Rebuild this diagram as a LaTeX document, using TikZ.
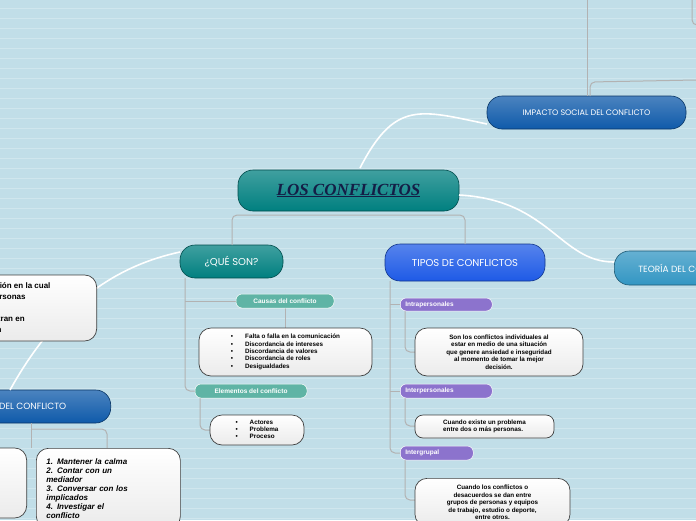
\documentclass[tikz,border=0pt]{standalone}
\usepackage{fontspec}
\setmainfont{Liberation Sans}
\newfontfamily\serifx{Liberation Serif}
\newfontfamily\handf{Poppins}
\definecolor{bgc}{RGB}{193,222,232}
\definecolor{tipc}{RGB}{30,90,230}
\definecolor{impc}{RGB}{15,90,170}
\definecolor{teoc}{RGB}{50,150,195}
\definecolor{subg}{RGB}{95,180,165}
\definecolor{subp}{RGB}{140,115,205}
\definecolor{navy}{RGB}{20,30,70}
\begin{document}
\begin{tikzpicture}[x=1pt,y=-1pt,
  topic/.style={rounded corners=15pt,draw=#1!60!black,line width=0.6pt,top color=#1!75!white,bottom color=#1,text=white,font=\handf\fontsize{8}{9}\selectfont,inner sep=0pt},
  sub/.style={rounded corners=6pt,draw=white,line width=0.5pt,fill=#1,text=white,font=\bfseries\fontsize{6.5}{7}\selectfont,inner sep=0pt},
  txt/.style={rounded corners=12pt,draw=black!75,line width=0.7pt,top color=white,bottom color=black!8,font=\bfseries\fontsize{6.3}{7.4}\selectfont,inner sep=0pt},
  gl/.style={draw=black!30,line width=1pt,rounded corners=5pt},
  wl/.style={draw=white,line width=1.6pt}]
\fill[bgc] (0,0) rectangle (696,520);
\useasboundingbox (0,0) rectangle (696,520);
\clip (0,0) rectangle (696,520);
\foreach \y in {8,18,...,518} {\draw[white,opacity=0.25,line width=0.4pt] (0,\y)--(696,\y);}
% nodes
\node[topic=teal,minimum width=221pt,minimum height=41pt,font=\serifx\bfseries\itshape\fontsize{17}{19}\selectfont,text=navy] (main) at (348.5,190.5) {\underline{LOS CONFLICTOS}};
\node[topic=teal,minimum width=103pt,minimum height=33pt,font=\handf\fontsize{10}{11}\selectfont] (que) at (231.5,261.5) {¿QUÉ SON?};
\node[topic=tipc,minimum width=160pt,minimum height=37pt,font=\handf\fontsize{10}{11}\selectfont] (tipos) at (465,262.5) {TIPOS DE CONFLICTOS};
\node[topic=impc,minimum width=199pt,minimum height=33pt] (imp) at (586.5,112.5) {IMPACTO SOCIAL DEL CONFLICTO};
\node[topic=teoc,minimum width=200pt,minimum height=34pt,anchor=west,font=\handf\fontsize{9}{10}\selectfont] (teo) at (614,268) {\hspace{-52pt}TEORÍA DEL CONFLICTO};
\node[topic=impc,minimum width=200pt,minimum height=33pt,anchor=east,font=\handf\fontsize{9}{10}\selectfont] (proc) at (111,406.5) {PROCESO DEL CONFLICTO\hspace{12pt}};
% gray connectors
\draw[gl] (232,245)--(232,215)--(465,215)--(465,244);
\draw[gl] (185,278)--(185,391)--(195,391);
\draw[gl] (185,301)--(236,301);
\draw[gl] (285,308)--(285,328);
\draw[gl] (200,398)--(200,430)--(210,430);
\draw[gl] (390,281)--(390,453)--(400,453);
\draw[gl] (390,304)--(400,304);
\draw[gl] (390,391)--(400,391);
\draw[gl] (405,311)--(405,352)--(415,352);
\draw[gl] (405,398)--(405,426)--(415,426);
\draw[gl] (405,460)--(405,500)--(415,500);
\draw[gl] (587,96)--(587,0);
\draw[gl] (590,96)--(590,82)--(696,80);
\draw[gl] (692,0)--(692,25)--(696,25);
\draw[gl] (31,423)--(31,448);
\draw[gl] (31,429)--(107,429)--(107,448);
% white curves
\draw[wl] (360,168) .. controls (395,100) and (420,110) .. (487,124);
\draw[wl] (459,195) .. controls (550,200) and (560,262) .. (614,262);
\draw[wl] (180,252) .. controls (120,265) and (60,300) .. (10,390);
% subs
\node[sub=subg,minimum width=98pt,minimum height=14pt] (causas) at (285,301) {Causas del conflicto};
\node[sub=subg,minimum width=112pt,minimum height=14pt] (elem) at (251,391) {Elementos del conflicto};
\node[sub=subp,minimum width=92pt,minimum height=13pt,anchor=west,text width=82pt] (intra) at (400,304.5) {Intrapersonales};
\node[sub=subp,minimum width=92pt,minimum height=14pt,anchor=west,text width=82pt] (inter) at (400,391) {Interpersonales};
\node[sub=subp,minimum width=73pt,minimum height=14pt,anchor=west,text width=63pt] (interg) at (400,453) {Intergrupal};
% text boxes
\node[txt,minimum width=173pt,minimum height=48pt] (cbox) at (285.5,352) {\begin{tabular}{@{}l@{\hspace{12pt}}l@{}}•&Falta o falla en la comunicación\\•&Discordancia de intereses\\•&Discordancia de valores\\•&Discordancia de roles\\•&Desigualdades\end{tabular}};
\node[txt,minimum width=94pt,minimum height=30pt] (ebox) at (257,430) {\begin{tabular}{@{}l@{\hspace{12pt}}l@{}}•&Actores\\•&Problema\\•&Proceso\end{tabular}};
\node[txt,minimum width=168pt,minimum height=48pt,align=center] (b1) at (499,352) {Son los conflictos individuales al\\estar en medio de una situación\\que genere ansiedad e inseguridad\\al momento de tomar la mejor\\decisión.};
\node[txt,minimum width=139pt,minimum height=23pt,align=left,rounded corners=8pt] (b2) at (484.5,426.5) {Cuando existe un problema\\entre dos o más personas.};
\node[txt,minimum width=155pt,minimum height=48pt,align=center,anchor=north] (b3) at (492.5,478) {Cuando los conflictos o\\desacuerdos se dan entre\\grupos de personas y equipos\\de trabajo, estudio o deporte,\\entre otros.};
\node[txt,minimum width=180pt,minimum height=66pt,anchor=east] (def) at (97,308) {};
\node[align=left,anchor=west,font=\bfseries\fontsize{8}{11}\selectfont,inner sep=0pt] (deft) at (-52,308) {Es una situación en la cual\\dos o más personas\\con intereses\\diferentes entran en\\confrontación};
\node[txt,minimum width=100pt,minimum height=70pt,anchor=east] (lbox) at (27,483) {};
\node[txt,minimum width=144pt,minimum height=80pt,anchor=north west,align=left,text width=124pt,font=\bfseries\itshape\fontsize{8}{9}\selectfont] (pbox) at (36,448) {1. Mantener la calma\\2. Contar con un\\mediador\\3. Conversar con los\\implicados\\4. Investigar el\\conflicto};
\end{tikzpicture}
\end{document}
